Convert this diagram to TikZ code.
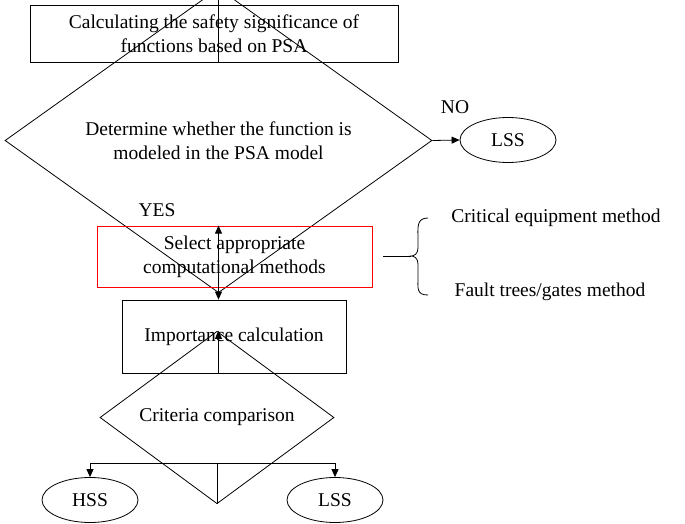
\documentclass[tikz,border=0pt]{standalone}
\usepackage{fontspec}
\setmainfont{Liberation Serif}
\usetikzlibrary{shapes.geometric,arrows.meta}
\begin{document}
\begin{tikzpicture}[x=1pt,y=1pt,
  every node/.style={font=\fontsize{19.5}{24}\selectfont},
  box/.style={draw,thick,align=center,inner sep=0pt},
  ell/.style={draw,thick,ellipse,minimum width=96pt,minimum height=45pt},
  arr/.style={thick,-{Triangle[length=8pt,width=7pt]}}]
\useasboundingbox (0,0) rectangle (685,-524);
\node[box,minimum width=368pt,minimum height=57pt] (t) at (214,-33.5) {Calculating the safety significance of\\functions based on PSA};
\node[draw,thick,diamond,minimum width=427pt,minimum height=125pt,inner sep=0pt,align=center] (d1) at (218.5,-140.5) {Determine whether the function is\\modeled in the PSA model};
\node[ell] (lss1) at (508,-140) {LSS};
\node at (455,-107) {NO};
\node at (157,-210) {YES};
\node[box,draw=red,minimum width=275pt,minimum height=61pt] (sel) at (234.5,-256.5) {Select appropriate\\computational methods};
\node[box,minimum width=224pt,minimum height=73pt] (imp) at (234,-336.5) {Importance calculation};
\node[draw,thick,diamond,minimum width=234pt,minimum height=85pt,inner sep=0pt] (d2) at (217,-417.5) {Criteria comparison};
\node[ell] (hss) at (90,-500) {HSS};
\node[ell] (lss2) at (335,-500) {LSS};
\node (c1) at (556,-218) {Critical equipment method};
\node (c2) at (550,-292) {Fault trees/gates method};
\coordinate (br) at (411,-256);
\coordinate (sl) at (383,-256);
\draw[arr] (t.south -| d1.north) -- (d1.north);
\draw[arr] (d1.east) -- (lss1.west);
\draw[arr] (d1.south) -- (d1.south |- sel.north);
\draw[arr] (d1.south |- sel.south) -- (d1.south |- imp.north);
\draw[arr] (d1.south |- imp.south) -- (d1.south |- d2.north);
\draw[thick] (sl) -- (br);
\draw[thick] (428,-218) .. controls (416,-218) and (418,-228) .. (418,-240) -- (418,-248) .. controls (418,-254) and (414,-256) .. (br)
  .. controls (414,-256) and (418,-258) .. (418,-264) -- (418,-276) .. controls (418,-288) and (416,-295) .. (428,-295);
\coordinate (j) at (217,-463);
\draw[thick] (d2.south) -- (j);
\draw[thick] (hss.north |- j) -- (lss2.north |- j);
\draw[arr] (hss.north |- j) -- (hss.north);
\draw[arr] (lss2.north |- j) -- (lss2.north);
\end{tikzpicture}
\end{document}
